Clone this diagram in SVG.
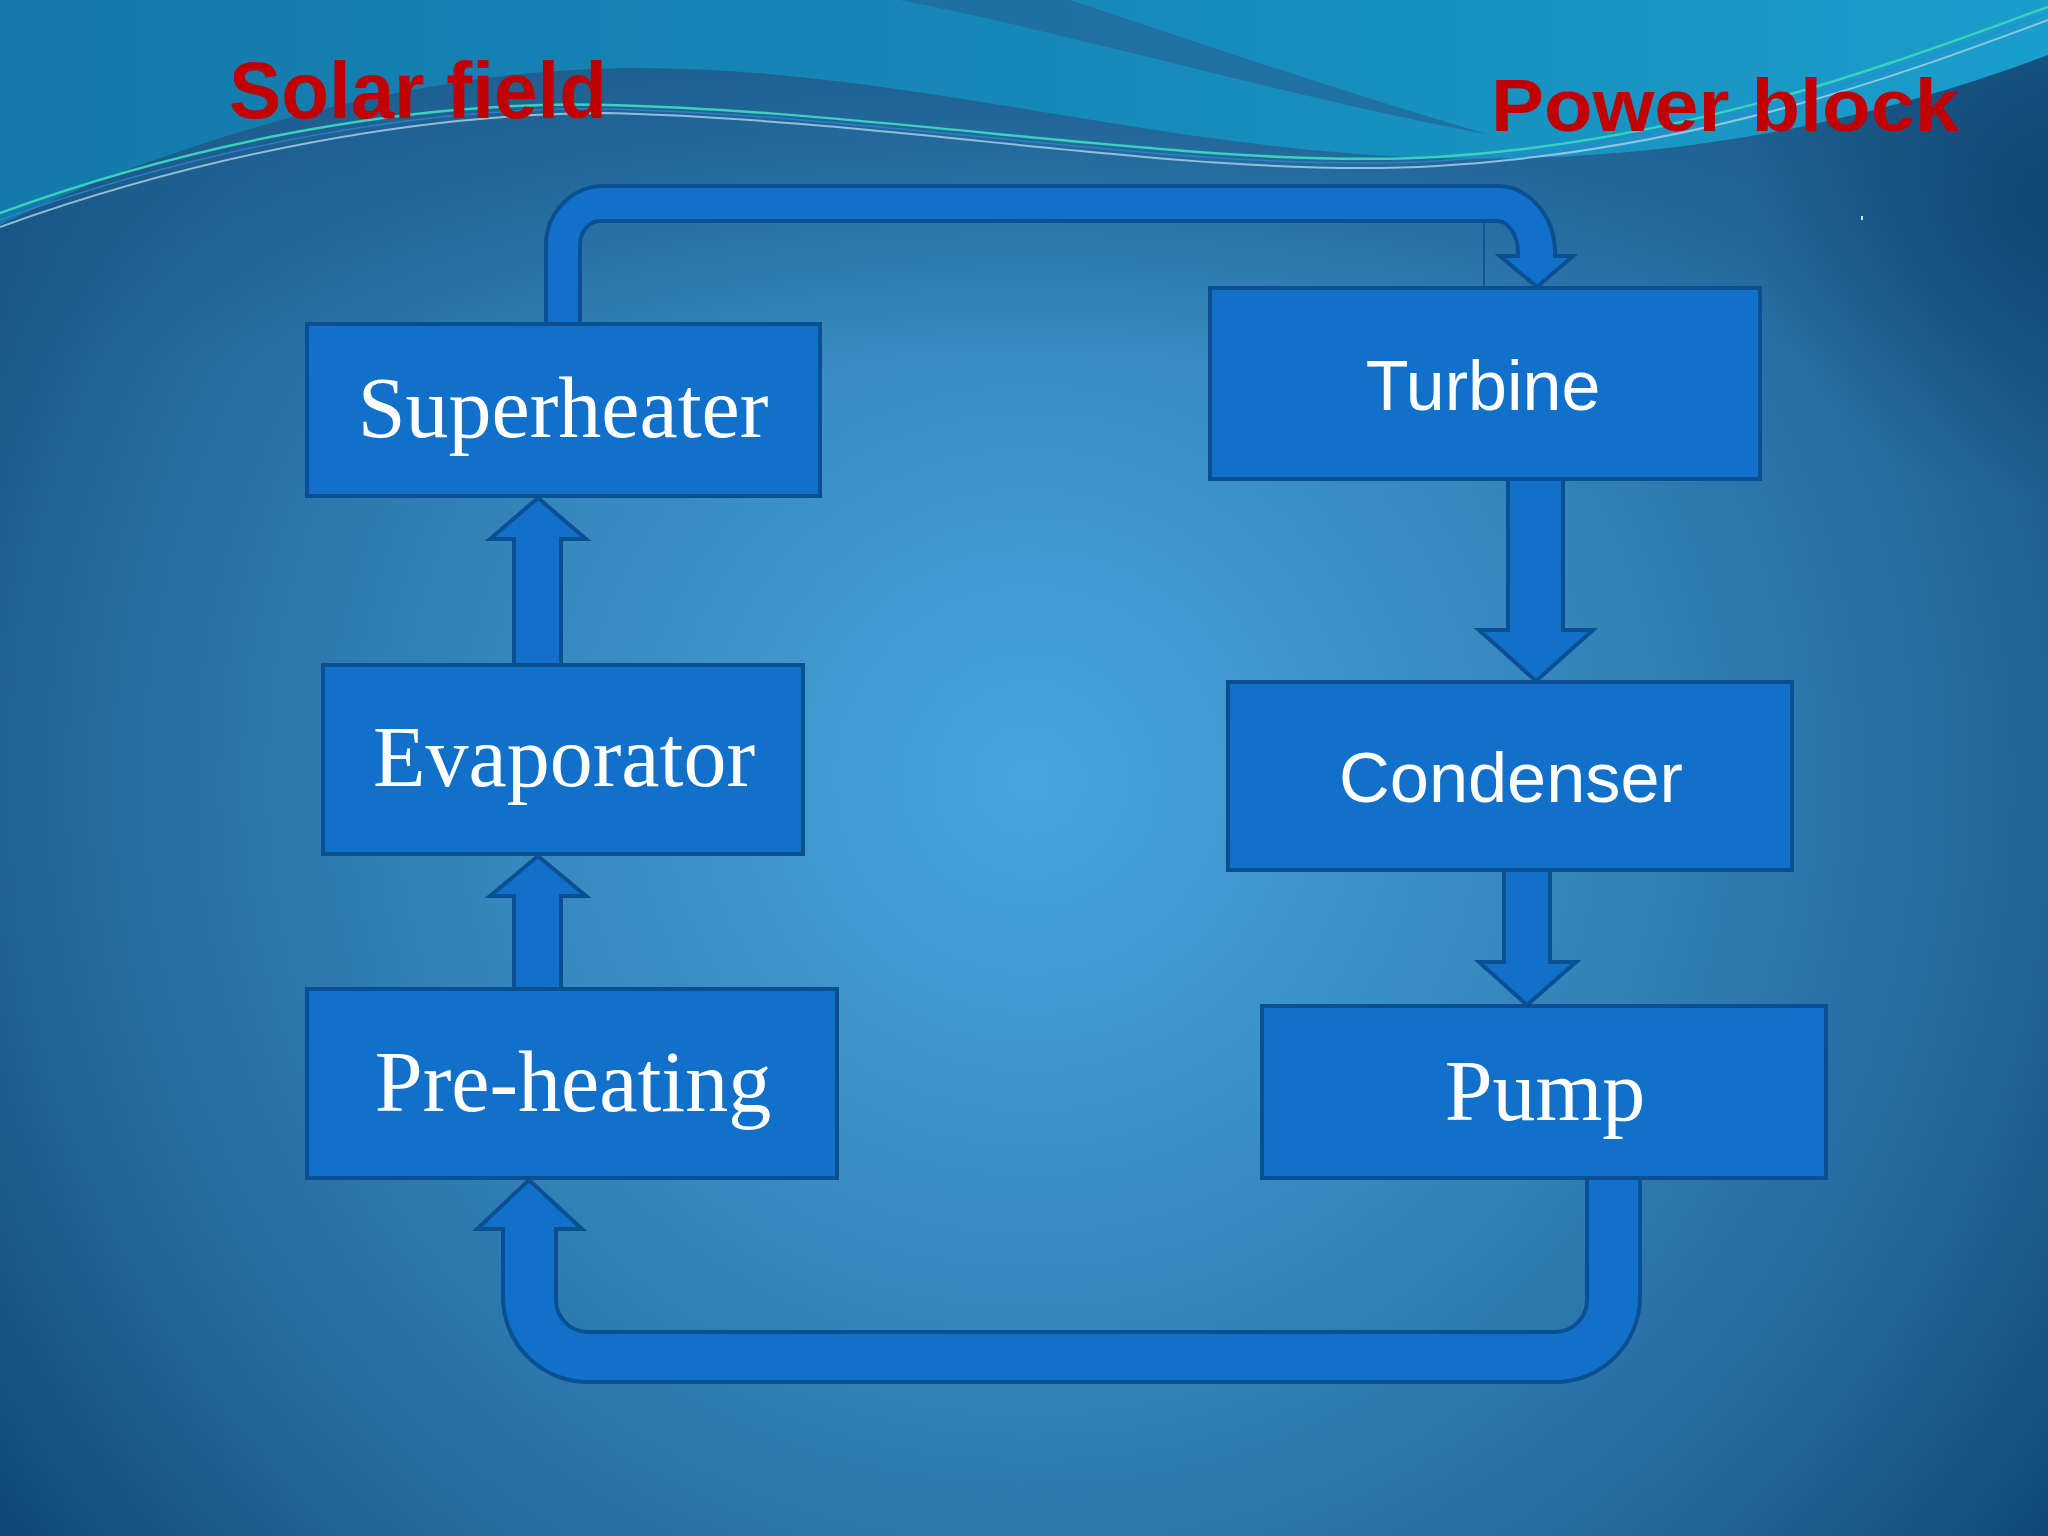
<svg xmlns="http://www.w3.org/2000/svg" width="2048" height="1536" viewBox="0 0 2048 1536">
<defs>
<radialGradient id="bg" gradientUnits="userSpaceOnUse" cx="1030" cy="780" r="1300">
<stop offset="0" stop-color="#47a5dc"/>
<stop offset="0.4" stop-color="#3688bf"/>
<stop offset="0.75" stop-color="#23689b"/>
<stop offset="1" stop-color="#0e4574"/>
</radialGradient>
<linearGradient id="sky" x1="0" y1="0" x2="1" y2="0">
<stop offset="0" stop-color="#1479ab"/>
<stop offset="0.5" stop-color="#1688b8"/>
<stop offset="1" stop-color="#1a9ecb"/>
</linearGradient>
<linearGradient id="dome" gradientUnits="userSpaceOnUse" x1="0" y1="60" x2="0" y2="360">
<stop offset="0" stop-color="#1b5c8c" stop-opacity="0.85"/>
<stop offset="1" stop-color="#1b5c8c" stop-opacity="0"/>
</linearGradient>
<radialGradient id="navy" gradientUnits="userSpaceOnUse" cx="2048" cy="200" r="300">
<stop offset="0" stop-color="#10436f" stop-opacity="0.8"/>
<stop offset="1" stop-color="#10436f" stop-opacity="0"/>
</radialGradient>
</defs>
<style>
.box{fill:#1170c9;stroke:#0b4f93;stroke-width:4}
.conn{fill:#1170c9;stroke:#0b4f93;stroke-width:4;stroke-linejoin:miter}
.serif{font-family:"Liberation Serif","Times New Roman",serif;font-size:86px;fill:#ffffff;text-anchor:middle}
.sans{font-family:"Liberation Sans",Arial,sans-serif;font-size:70px;fill:#ffffff;text-anchor:middle}
.title{font-family:"Liberation Sans",Arial,sans-serif;font-weight:bold;fill:#c00000}
</style>

<g id="background">
<rect x="0" y="0" width="2048" height="1536" fill="url(#bg)"/>
<rect x="0" y="0" width="2048" height="400" fill="url(#dome)"/>
<rect x="1650" y="0" width="398" height="600" fill="url(#navy)"/>
<path d="M0,225 C150,150 400,70 627,68 C900,66 1150,150 1437,158 C1700,165 1900,110 2048,55 V0 H0 Z" fill="url(#sky)"/>
<path d="M900,0 C1100,40 1300,100 1490,135 C1320,85 1160,30 1070,0 Z" fill="#216a9a" opacity="0.8"/>
<path d="M0,213 C200,140 420,100 607,105 C900,112 1200,170 1437,157 C1700,140 1900,60 2048,7" fill="none" stroke="#3ad2bf" stroke-width="2.5"/>
<path d="M0,227 C200,155 420,113 607,113 C900,120 1200,180 1437,166 C1700,150 1900,75 2048,20" fill="none" stroke="#a8cce6" stroke-width="2" opacity="0.85"/>
<path d="M0,220 C200,148 420,106 607,109 C900,116 1200,175 1437,161 C1700,145 1900,68 2048,13" fill="none" stroke="#2f87d2" stroke-width="1.5" opacity="0.8"/>
<rect x="1861" y="216" width="2" height="4" fill="#cfe6f5"/>
</g>

<text id="title-solar" class="title" x="229" y="118" font-size="80" textLength="378" lengthAdjust="spacingAndGlyphs">Solar field</text>
<text id="title-power" class="title" x="1491" y="131" font-size="75" textLength="468" lengthAdjust="spacingAndGlyphs">Power block</text>

<g id="connectors">
<line x1="1484" y1="221" x2="1484" y2="287" stroke="#0b4f93" stroke-width="1.5"/>
<path class="conn" d="M546,324 V245 A58,59 0 0 1 604,186 H1497 A58,67 0 0 1 1555,253 V256 H1573 L1537,287 L1500,256 H1518 V253 A21,32 0 0 0 1497,221 H600 A20,24 0 0 0 580,245 V324 Z"/>
<path class="conn" d="M1587,1176 V1300 A32,32 0 0 1 1555,1332 H588 A32,32 0 0 1 556,1300 V1229 H582 L529,1180 L477,1229 H503 V1297 A85,85 0 0 0 588,1382 H1555 A85,85 0 0 0 1640,1297 V1176 Z"/>
<path class="conn" d="M514,665 V539 H490 L538,498 L586,539 H561 V665 Z"/>
<path class="conn" d="M514,989 V896 H490 L538,856 L586,896 H561 V989 Z"/>
<path class="conn" d="M1508,479 V630 H1479 L1536,681 L1593,630 H1563 V479 Z"/>
<path class="conn" d="M1504,870 V962 H1479 L1527,1005 L1576,962 H1550 V870 Z"/>
</g>

<g id="superheater">
<rect class="box" x="307" y="324" width="513" height="172"/>
<text class="serif" x="563" y="437">Superheater</text>
</g>
<g id="evaporator">
<rect class="box" x="323" y="665" width="480" height="189"/>
<text class="serif" x="564" y="786" font-size="84">Evaporator</text>
</g>
<g id="preheating">
<rect class="box" x="307" y="989" width="530" height="189"/>
<text class="serif" x="573" y="1111">Pre-heating</text>
</g>
<g id="turbine">
<rect class="box" x="1210" y="288" width="550" height="191"/>
<text class="sans" x="1483" y="410">Turbine</text>
</g>
<g id="condenser">
<rect class="box" x="1228" y="682" width="564" height="188"/>
<text class="sans" x="1511" y="802" font-size="71" textLength="344" lengthAdjust="spacingAndGlyphs">Condenser</text>
</g>
<g id="pump">
<rect class="box" x="1262" y="1006" width="564" height="172"/>
<text class="serif" x="1545" y="1120">Pump</text>
</g>
</svg>
